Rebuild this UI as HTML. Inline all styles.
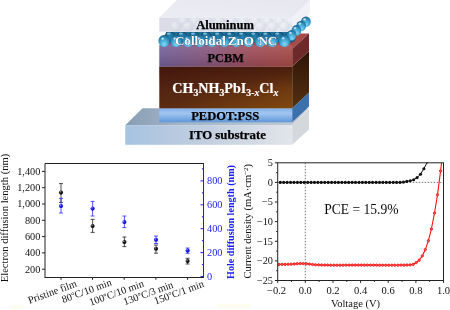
<!DOCTYPE html><html><head><meta charset="utf-8"><title>Figure</title><style>html,body{margin:0;padding:0;background:#fff}svg{display:block}text{font-family:"Liberation Serif",serif}</style></head><body>
<svg width="450" height="310" viewBox="0 0 450 310">
<defs>
<radialGradient id="sp" cx="0.5" cy="0.7" r="0.75" fx="0.52" fy="0.8"><stop offset="0" stop-color="#86d8f4"/><stop offset="0.45" stop-color="#45aad8"/><stop offset="0.8" stop-color="#2478a6"/><stop offset="1" stop-color="#15547c"/></radialGradient>
<radialGradient id="sp2" cx="0.5" cy="0.5" r="0.5"><stop offset="0" stop-color="#2a86b4"/><stop offset="0.7" stop-color="#1d6a94"/><stop offset="1" stop-color="#0f4a6b"/></radialGradient>
<radialGradient id="hl" cx="0.5" cy="0.5" r="0.5"><stop offset="0" stop-color="#ffffff" stop-opacity="0.95"/><stop offset="0.5" stop-color="#d8f0fa" stop-opacity="0.6"/><stop offset="1" stop-color="#9fd8f0" stop-opacity="0"/></radialGradient>
<clipPath id="below"><rect x="150" y="31.9" width="170" height="30"/></clipPath>
<clipPath id="alc"><rect x="159.3" y="17.6" width="132.9" height="14.2"/></clipPath>
<radialGradient id="gs" cx="0.35" cy="0.3" r="0.75"><stop offset="0" stop-color="#ffffff"/><stop offset="0.6" stop-color="#d4dbe4"/><stop offset="1" stop-color="#b8c2cf"/></radialGradient>
<radialGradient id="mk" cx="0.35" cy="0.3" r="0.7"><stop offset="0" stop-color="#bbbbbb"/><stop offset="0.35" stop-color="#222"/><stop offset="1" stop-color="#000"/></radialGradient>
<radialGradient id="mb" cx="0.35" cy="0.3" r="0.7"><stop offset="0" stop-color="#c0c0ff"/><stop offset="0.35" stop-color="#2222ff"/><stop offset="1" stop-color="#0000d0"/></radialGradient>
<linearGradient id="pcbm" x1="0" x2="1" y1="0" y2="0"><stop offset="0" stop-color="#73619a"/><stop offset="0.4" stop-color="#8c567c"/><stop offset="0.7" stop-color="#a04c58"/><stop offset="1" stop-color="#a94a46"/></linearGradient>
<linearGradient id="pcbmv" x1="0" x2="0" y1="0" y2="1"><stop offset="0" stop-color="#ffffff" stop-opacity="0.10"/><stop offset="1" stop-color="#000000" stop-opacity="0.12"/></linearGradient>
<linearGradient id="pero" x1="0" x2="1" y1="0" y2="1"><stop offset="0" stop-color="#4a1c12"/><stop offset="0.5" stop-color="#5a2a12"/><stop offset="1" stop-color="#80480f"/></linearGradient>
<linearGradient id="perov" x1="0" x2="0" y1="0" y2="1"><stop offset="0" stop-color="#3a1208" stop-opacity="0.5"/><stop offset="0.5" stop-color="#3a1208" stop-opacity="0"/></linearGradient>
<linearGradient id="pedot" x1="0" x2="0" y1="0" y2="1"><stop offset="0" stop-color="#7fb0ea"/><stop offset="0.35" stop-color="#a2c6f2"/><stop offset="1" stop-color="#5f97d8"/></linearGradient>
<linearGradient id="itof" x1="0" x2="1" y1="0" y2="0"><stop offset="0" stop-color="#a6c3e0"/><stop offset="0.5" stop-color="#c3cfe0"/><stop offset="1" stop-color="#e2e5ea"/></linearGradient>
<linearGradient id="itot" x1="0" x2="1" y1="0" y2="0"><stop offset="0" stop-color="#889db4"/><stop offset="0.3" stop-color="#a3b4c6"/><stop offset="1" stop-color="#c4ccd6"/></linearGradient>
<linearGradient id="alf" x1="0" x2="1" y1="0" y2="0"><stop offset="0" stop-color="#dadbe7"/><stop offset="1" stop-color="#eaebf2"/></linearGradient>
<linearGradient id="alt" x1="0" x2="1" y1="1" y2="0"><stop offset="0" stop-color="#ecedf4"/><stop offset="1" stop-color="#e6e7ef"/></linearGradient>
<linearGradient id="peros" x1="0" x2="0" y1="0" y2="1"><stop offset="0" stop-color="#2e1408"/><stop offset="1" stop-color="#55300f"/></linearGradient>
</defs>
<polygon points="125.3,125.2 142.5,108.3 309,108.3 292.2,125.2" fill="url(#itot)"/>
<polygon points="292.2,125.2 309,109 309,129.5 292.2,144.8" fill="#d4d7db"/>
<rect x="125.3" y="125.2" width="166.89999999999998" height="19.6" fill="url(#itof)"/>
<polygon points="292.2,108.3 309,92.5 309,106.5 292.2,122.3" fill="#3b70ad"/>
<rect x="159.3" y="108.3" width="132.89999999999998" height="14" fill="url(#pedot)"/>
<polygon points="292.2,66.5 309,51 309,92.5 292.2,108.3" fill="url(#peros)"/>
<rect x="159.3" y="66.5" width="132.89999999999998" height="41.8" fill="url(#pero)"/>
<rect x="159.3" y="66.5" width="132.89999999999998" height="41.8" fill="url(#perov)"/>
<polygon points="159.3,49 175,33.5 309,33.5 292.2,49" fill="url(#pcbm)"/>
<polygon points="292.2,49 309,33.5 309,51 292.2,66.5" fill="#6e2a2a"/>
<rect x="159.3" y="45" width="132.89999999999998" height="21.5" fill="url(#pcbm)"/>
<rect x="159.3" y="45" width="132.89999999999998" height="21.5" fill="url(#pcbmv)"/>
<g clip-path="url(#below)">
<rect x="166" y="31.5" width="126" height="8" fill="#1f6f98"/>
<circle cx="170.0" cy="37" r="5.6" fill="url(#sp2)"/>
<ellipse cx="168.8" cy="33.6" rx="2" ry="1.2" fill="#8fd0ec" opacity="0.8"/>
<circle cx="182.1" cy="37" r="5.6" fill="url(#sp2)"/>
<ellipse cx="180.9" cy="33.6" rx="2" ry="1.2" fill="#8fd0ec" opacity="0.8"/>
<circle cx="194.1" cy="37" r="5.6" fill="url(#sp2)"/>
<ellipse cx="192.9" cy="33.6" rx="2" ry="1.2" fill="#8fd0ec" opacity="0.8"/>
<circle cx="206.2" cy="37" r="5.6" fill="url(#sp2)"/>
<ellipse cx="205.0" cy="33.6" rx="2" ry="1.2" fill="#8fd0ec" opacity="0.8"/>
<circle cx="218.2" cy="37" r="5.6" fill="url(#sp2)"/>
<ellipse cx="217.0" cy="33.6" rx="2" ry="1.2" fill="#8fd0ec" opacity="0.8"/>
<circle cx="230.2" cy="37" r="5.6" fill="url(#sp2)"/>
<ellipse cx="229.1" cy="33.6" rx="2" ry="1.2" fill="#8fd0ec" opacity="0.8"/>
<circle cx="242.3" cy="37" r="5.6" fill="url(#sp2)"/>
<ellipse cx="241.1" cy="33.6" rx="2" ry="1.2" fill="#8fd0ec" opacity="0.8"/>
<circle cx="254.4" cy="37" r="5.6" fill="url(#sp2)"/>
<ellipse cx="253.2" cy="33.6" rx="2" ry="1.2" fill="#8fd0ec" opacity="0.8"/>
<circle cx="266.4" cy="37" r="5.6" fill="url(#sp2)"/>
<ellipse cx="265.2" cy="33.6" rx="2" ry="1.2" fill="#8fd0ec" opacity="0.8"/>
<circle cx="278.4" cy="37" r="5.6" fill="url(#sp2)"/>
<ellipse cx="277.2" cy="33.6" rx="2" ry="1.2" fill="#8fd0ec" opacity="0.8"/>
<circle cx="290.5" cy="37" r="5.6" fill="url(#sp2)"/>
<ellipse cx="289.3" cy="33.6" rx="2" ry="1.2" fill="#8fd0ec" opacity="0.8"/>
</g>
<polygon points="292.2,17.6 310,0 310,14 292.2,31.7" fill="#f1f1f7"/>
<polygon points="159.3,17.6 176.8,0 310,0 292.2,17.6" fill="url(#alt)"/>
<rect x="159.3" y="17.6" width="132.89999999999998" height="14.1" fill="url(#alf)"/>
<g clip-path="url(#alc)" opacity="0.42">
<circle cx="183.5" cy="21.8" r="5.2" fill="url(#gs)"/>
<circle cx="195.6" cy="21.8" r="5.2" fill="url(#gs)"/>
<circle cx="207.6" cy="21.8" r="5.2" fill="url(#gs)"/>
<circle cx="219.7" cy="21.8" r="5.2" fill="url(#gs)"/>
<circle cx="231.7" cy="21.8" r="5.2" fill="url(#gs)"/>
<circle cx="243.8" cy="21.8" r="5.2" fill="url(#gs)"/>
<circle cx="255.8" cy="21.8" r="5.2" fill="url(#gs)"/>
<circle cx="267.9" cy="21.8" r="5.2" fill="url(#gs)"/>
<circle cx="279.9" cy="21.8" r="5.2" fill="url(#gs)"/>
<circle cx="291.9" cy="21.8" r="5.2" fill="url(#gs)"/>
<circle cx="176.0" cy="27" r="5.2" fill="url(#gs)"/>
<circle cx="188.1" cy="27" r="5.2" fill="url(#gs)"/>
<circle cx="200.1" cy="27" r="5.2" fill="url(#gs)"/>
<circle cx="212.2" cy="27" r="5.2" fill="url(#gs)"/>
<circle cx="224.2" cy="27" r="5.2" fill="url(#gs)"/>
<circle cx="236.2" cy="27" r="5.2" fill="url(#gs)"/>
<circle cx="248.3" cy="27" r="5.2" fill="url(#gs)"/>
<circle cx="260.4" cy="27" r="5.2" fill="url(#gs)"/>
<circle cx="272.4" cy="27" r="5.2" fill="url(#gs)"/>
<circle cx="284.4" cy="27" r="5.2" fill="url(#gs)"/>
</g>
<ellipse cx="164.0" cy="40.9" rx="5.6" ry="6.0" fill="url(#sp)"/>
<ellipse cx="162.7" cy="38.6" rx="2.1" ry="1.7" fill="url(#hl)"/>
<ellipse cx="176.1" cy="40.9" rx="5.6" ry="6.0" fill="url(#sp)"/>
<ellipse cx="174.8" cy="38.6" rx="2.1" ry="1.7" fill="url(#hl)"/>
<ellipse cx="188.1" cy="40.9" rx="5.6" ry="6.0" fill="url(#sp)"/>
<ellipse cx="186.8" cy="38.6" rx="2.1" ry="1.7" fill="url(#hl)"/>
<ellipse cx="200.2" cy="40.9" rx="5.6" ry="6.0" fill="url(#sp)"/>
<ellipse cx="198.8" cy="38.6" rx="2.1" ry="1.7" fill="url(#hl)"/>
<ellipse cx="212.2" cy="40.9" rx="5.6" ry="6.0" fill="url(#sp)"/>
<ellipse cx="210.9" cy="38.6" rx="2.1" ry="1.7" fill="url(#hl)"/>
<ellipse cx="224.2" cy="40.9" rx="5.6" ry="6.0" fill="url(#sp)"/>
<ellipse cx="222.9" cy="38.6" rx="2.1" ry="1.7" fill="url(#hl)"/>
<ellipse cx="236.3" cy="40.9" rx="5.6" ry="6.0" fill="url(#sp)"/>
<ellipse cx="235.0" cy="38.6" rx="2.1" ry="1.7" fill="url(#hl)"/>
<ellipse cx="248.4" cy="40.9" rx="5.6" ry="6.0" fill="url(#sp)"/>
<ellipse cx="247.1" cy="38.6" rx="2.1" ry="1.7" fill="url(#hl)"/>
<ellipse cx="260.4" cy="40.9" rx="5.6" ry="6.0" fill="url(#sp)"/>
<ellipse cx="259.1" cy="38.6" rx="2.1" ry="1.7" fill="url(#hl)"/>
<ellipse cx="272.4" cy="40.9" rx="5.6" ry="6.0" fill="url(#sp)"/>
<ellipse cx="271.1" cy="38.6" rx="2.1" ry="1.7" fill="url(#hl)"/>
<ellipse cx="284.5" cy="40.9" rx="5.6" ry="6.0" fill="url(#sp)"/>
<ellipse cx="283.2" cy="38.6" rx="2.1" ry="1.7" fill="url(#hl)"/>
<ellipse cx="305.9" cy="21.7" rx="4.9" ry="5.300000000000001" fill="url(#sp)"/>
<ellipse cx="304.6" cy="19.4" rx="2.1" ry="1.7" fill="url(#hl)"/>
<ellipse cx="301.2" cy="26.0" rx="4.9" ry="5.300000000000001" fill="url(#sp)"/>
<ellipse cx="299.9" cy="23.7" rx="2.1" ry="1.7" fill="url(#hl)"/>
<ellipse cx="296.4" cy="30.4" rx="4.9" ry="5.300000000000001" fill="url(#sp)"/>
<ellipse cx="295.1" cy="28.1" rx="2.1" ry="1.7" fill="url(#hl)"/>
<ellipse cx="291.7" cy="35.3" rx="4.9" ry="5.300000000000001" fill="url(#sp)"/>
<ellipse cx="290.4" cy="33.0" rx="2.1" ry="1.7" fill="url(#hl)"/>
<ellipse cx="284.5" cy="40.6" rx="5.6" ry="6.0" fill="url(#sp)"/>
<ellipse cx="283.2" cy="38.3" rx="2.1" ry="1.7" fill="url(#hl)"/>
<g font-weight="bold" text-anchor="middle" stroke="#000" stroke-width="0.25">
<text x="225" y="28.7" font-size="12.5" fill="#000">Aluminum</text>
<text x="174.9" y="45.3" font-size="13.1" text-anchor="start" fill="#fff" stroke="#1d4f6e" stroke-width="0.6" paint-order="stroke">Colloidal<tspan dx="-1.4"> ZnO</tspan><tspan dx="1.2"> NC</tspan></text>
<text x="225.7" y="61.8" font-size="12.3" fill="#000">PCBM</text>
<text x="225.3" y="92.5" font-size="14.1" fill="#fff" stroke="#fff" stroke-width="0.2">CH<tspan font-size="9.8" dy="3.2">3</tspan><tspan dy="-3.2">NH</tspan><tspan font-size="9.8" dy="3.2">3</tspan><tspan dy="-3.2">PbI</tspan><tspan font-size="9.8" dy="3.2">3-<tspan font-style="italic">x</tspan></tspan><tspan dy="-3.2">Cl</tspan><tspan font-size="9.8" dy="3.2" font-style="italic">x</tspan></text>
<text x="225.2" y="120" font-size="12.55" fill="#000">PEDOT:PSS</text>
<text x="227.4" y="138.9" font-size="12.8" fill="#000">ITO substrate</text>
</g>
<g stroke="#222" stroke-width="1" fill="none">
<path d="M45,277.5V163.5H203.5"/><path d="M44.5,277.5H203.5"/>
<path d="M45,171.4h-3"/>
<path d="M45,187.7h-3"/>
<path d="M45,204h-3"/>
<path d="M45,220.3h-3"/>
<path d="M45,236.6h-3"/>
<path d="M45,252.9h-3"/>
<path d="M45,269.2h-3"/>
<path d="M61,277.5v2.3"/>
<path d="M92.5,277.5v2.3"/>
<path d="M124.2,277.5v2.3"/>
<path d="M155.9,277.5v2.3"/>
<path d="M187.6,277.5v2.3"/>
</g>
<g stroke="#1c1cff" stroke-width="1" fill="none">
<path d="M203.5,163.0V278.0"/>
<path d="M203.5,180.9h-3"/>
<path d="M203.5,204.8h-3"/>
<path d="M203.5,228.7h-3"/>
<path d="M203.5,252.6h-3"/>
<path d="M203.5,276.5h-3"/>
<path d="M203.5,168.9h-1.6"/>
<path d="M203.5,192.9h-1.6"/>
<path d="M203.5,216.8h-1.6"/>
<path d="M203.5,240.7h-1.6"/>
<path d="M203.5,264.6h-1.6"/>
</g>
<g font-size="10.3" fill="#111" text-anchor="end">
<text x="40.4" y="174.8">1,400</text>
<text x="40.4" y="191.1">1,200</text>
<text x="40.4" y="207.4">1,000</text>
<text x="40.4" y="223.70000000000002">800</text>
<text x="40.4" y="240.0">600</text>
<text x="40.4" y="256.3">400</text>
<text x="40.4" y="272.59999999999997">200</text>
</g>
<g font-size="10.3" fill="#1c1cff">
<text x="207" y="184.3">800</text>
<text x="207" y="208.20000000000002">600</text>
<text x="207" y="232.1">400</text>
<text x="207" y="256.0">200</text>
<text x="207" y="279.9">0</text>
</g>
<g font-size="10.3" fill="#111" text-anchor="middle">
<text transform="translate(53.5,295) rotate(-20)" x="0" y="0">Pristine film</text>
<text transform="translate(87.8,294) rotate(-20)" x="0" y="0">80<tspan font-size="8.2" dy="-1.2">°</tspan><tspan dy="1.2">C</tspan>/10 min</text>
<text transform="translate(117.7,296) rotate(-20)" x="0" y="0">100<tspan font-size="8.2" dy="-1.2">°</tspan><tspan dy="1.2">C</tspan>/10 min</text>
<text transform="translate(149.4,296.3) rotate(-20)" x="0" y="0">130<tspan font-size="8.2" dy="-1.2">°</tspan><tspan dy="1.2">C</tspan>/3 min</text>
<text transform="translate(180.1,295.5) rotate(-20)" x="0" y="0">150<tspan font-size="8.2" dy="-1.2">°</tspan><tspan dy="1.2">C</tspan>/1 min</text>
</g>
<text transform="translate(7.8,218) rotate(-90)" text-anchor="middle" font-size="10.55" fill="#111">Electron diffusion length (nm)</text>
<text transform="translate(233.6,222) rotate(-90)" text-anchor="middle" font-size="10.15" font-weight="bold" fill="#1c1cff">Hole diffusion length (nm)</text>
<path d="M61,183.6V202.4M59,183.6h4M59,202.4h4" stroke="#222" stroke-width="0.8" fill="none"/>
<circle cx="61" cy="192.6" r="2.05" fill="url(#mk)"/>
<path d="M92.6,219.4V232.4M90.6,219.4h4M90.6,232.4h4" stroke="#222" stroke-width="0.8" fill="none"/>
<circle cx="92.6" cy="226" r="2.05" fill="url(#mk)"/>
<path d="M124.4,237V246.6M122.4,237h4M122.4,246.6h4" stroke="#222" stroke-width="0.8" fill="none"/>
<circle cx="124.4" cy="242" r="2.05" fill="url(#mk)"/>
<path d="M156,245V253.2M154,245h4M154,253.2h4" stroke="#222" stroke-width="0.8" fill="none"/>
<circle cx="156" cy="248.8" r="2.05" fill="url(#mk)"/>
<path d="M187.6,258.3V264M185.6,258.3h4M185.6,264h4" stroke="#222" stroke-width="0.8" fill="none"/>
<circle cx="187.6" cy="261" r="2.05" fill="url(#mk)"/>
<path d="M61,198.4V213M59,198.4h4M59,213h4" stroke="#2a2aff" stroke-width="0.8" fill="none"/>
<circle cx="61" cy="206" r="2.05" fill="url(#mb)"/>
<path d="M92.6,201.4V216M90.6,201.4h4M90.6,216h4" stroke="#2a2aff" stroke-width="0.8" fill="none"/>
<circle cx="92.6" cy="208.6" r="2.05" fill="url(#mb)"/>
<path d="M124.4,216V227.6M122.4,216h4M122.4,227.6h4" stroke="#2a2aff" stroke-width="0.8" fill="none"/>
<circle cx="124.4" cy="222" r="2.05" fill="url(#mb)"/>
<path d="M156,236V243.5M154,236h4M154,243.5h4" stroke="#2a2aff" stroke-width="0.8" fill="none"/>
<circle cx="156" cy="239.8" r="2.05" fill="url(#mb)"/>
<path d="M187.6,248V253.3M185.6,248h4M185.6,253.3h4" stroke="#2a2aff" stroke-width="0.8" fill="none"/>
<circle cx="187.6" cy="250.6" r="2.05" fill="url(#mb)"/>
<g stroke="#555" stroke-width="0.8" stroke-dasharray="1.5,1.5" fill="none"><path d="M305.3,162.8V280.5"/><path d="M277.7,182.4H443.5"/></g>
<clipPath id="cp"><rect x="277.7" y="162.8" width="165.8" height="117.69999999999999"/></clipPath>
<g clip-path="url(#cp)">
<polyline fill="none" stroke="#111" stroke-width="1" points="280.3,182.4 283.7,182.4 287.1,182.4 290.6,182.4 294.0,182.4 297.4,182.4 300.8,182.4 304.2,182.4 307.7,182.4 311.1,182.4 314.5,182.4 317.9,182.4 321.3,182.4 324.8,182.4 328.2,182.4 331.6,182.4 335.0,182.4 338.4,182.4 341.9,182.4 345.3,182.4 348.7,182.4 352.1,182.4 355.5,182.4 359.0,182.4 362.4,182.4 365.8,182.4 369.2,182.4 372.6,182.4 376.1,182.4 379.5,182.4 382.9,182.4 386.3,182.4 389.7,182.4 393.2,182.4 396.6,182.4 400.0,182.4 403.4,182.1 406.8,181.4 410.3,180.8 413.7,179.7 417.1,177.6 420.5,174.2 423.9,168.7 427.4,161.9 430.8,155.0"/>
<circle cx="280.3" cy="182.4" r="1.55" fill="#111"/>
<circle cx="283.7" cy="182.4" r="1.55" fill="#111"/>
<circle cx="287.1" cy="182.4" r="1.55" fill="#111"/>
<circle cx="290.6" cy="182.4" r="1.55" fill="#111"/>
<circle cx="294.0" cy="182.4" r="1.55" fill="#111"/>
<circle cx="297.4" cy="182.4" r="1.55" fill="#111"/>
<circle cx="300.8" cy="182.4" r="1.55" fill="#111"/>
<circle cx="304.2" cy="182.4" r="1.55" fill="#111"/>
<circle cx="307.7" cy="182.4" r="1.55" fill="#111"/>
<circle cx="311.1" cy="182.4" r="1.55" fill="#111"/>
<circle cx="314.5" cy="182.4" r="1.55" fill="#111"/>
<circle cx="317.9" cy="182.4" r="1.55" fill="#111"/>
<circle cx="321.3" cy="182.4" r="1.55" fill="#111"/>
<circle cx="324.8" cy="182.4" r="1.55" fill="#111"/>
<circle cx="328.2" cy="182.4" r="1.55" fill="#111"/>
<circle cx="331.6" cy="182.4" r="1.55" fill="#111"/>
<circle cx="335.0" cy="182.4" r="1.55" fill="#111"/>
<circle cx="338.4" cy="182.4" r="1.55" fill="#111"/>
<circle cx="341.9" cy="182.4" r="1.55" fill="#111"/>
<circle cx="345.3" cy="182.4" r="1.55" fill="#111"/>
<circle cx="348.7" cy="182.4" r="1.55" fill="#111"/>
<circle cx="352.1" cy="182.4" r="1.55" fill="#111"/>
<circle cx="355.5" cy="182.4" r="1.55" fill="#111"/>
<circle cx="359.0" cy="182.4" r="1.55" fill="#111"/>
<circle cx="362.4" cy="182.4" r="1.55" fill="#111"/>
<circle cx="365.8" cy="182.4" r="1.55" fill="#111"/>
<circle cx="369.2" cy="182.4" r="1.55" fill="#111"/>
<circle cx="372.6" cy="182.4" r="1.55" fill="#111"/>
<circle cx="376.1" cy="182.4" r="1.55" fill="#111"/>
<circle cx="379.5" cy="182.4" r="1.55" fill="#111"/>
<circle cx="382.9" cy="182.4" r="1.55" fill="#111"/>
<circle cx="386.3" cy="182.4" r="1.55" fill="#111"/>
<circle cx="389.7" cy="182.4" r="1.55" fill="#111"/>
<circle cx="393.2" cy="182.4" r="1.55" fill="#111"/>
<circle cx="396.6" cy="182.4" r="1.55" fill="#111"/>
<circle cx="400.0" cy="182.4" r="1.55" fill="#111"/>
<circle cx="403.4" cy="182.1" r="1.55" fill="#111"/>
<circle cx="406.8" cy="181.4" r="1.55" fill="#111"/>
<circle cx="410.3" cy="180.8" r="1.55" fill="#111"/>
<circle cx="413.7" cy="179.7" r="1.55" fill="#111"/>
<circle cx="417.1" cy="177.6" r="1.55" fill="#111"/>
<circle cx="420.5" cy="174.2" r="1.55" fill="#111"/>
<circle cx="423.9" cy="168.7" r="1.55" fill="#111"/>
<circle cx="427.4" cy="161.9" r="1.55" fill="#111"/>
<circle cx="430.8" cy="155.0" r="1.55" fill="#111"/>
<polyline fill="none" stroke="#f51212" stroke-width="1.1" points="278.9,264.5 282.0,264.4 285.0,264.4 288.1,264.3 291.1,264.2 294.2,264.0 297.2,263.7 300.3,263.5 303.3,263.6 306.4,263.7 309.4,264.1 312.5,264.5 315.5,264.8 318.6,264.9 321.6,265.0 324.7,265.1 327.7,265.1 330.8,265.2 333.8,265.2 336.9,265.2 339.9,265.2 343.0,265.2 346.0,265.1 349.1,265.1 352.1,265.1 355.2,265.1 358.2,265.1 361.3,265.1 364.3,265.1 367.4,265.1 370.4,265.1 373.5,265.1 376.5,265.1 379.6,265.2 382.6,265.2 385.7,265.2 388.7,265.2 391.8,265.2 394.8,265.2 397.9,265.2 400.9,265.1 404.0,265.1 407.0,265.0 410.1,264.9 413.1,264.4 416.2,262.6 419.2,260.2 422.3,255.9 425.3,249.6 428.4,240.7 431.4,229.0 434.5,213.0 437.5,194.7 440.6,170.9 443.6,145.0"/>
<circle cx="278.9" cy="264.5" r="1.15" fill="#ff5a5a" stroke="#f01818" stroke-width="0.9"/>
<circle cx="282.0" cy="264.4" r="1.15" fill="#ff5a5a" stroke="#f01818" stroke-width="0.9"/>
<circle cx="285.0" cy="264.4" r="1.15" fill="#ff5a5a" stroke="#f01818" stroke-width="0.9"/>
<circle cx="288.1" cy="264.3" r="1.15" fill="#ff5a5a" stroke="#f01818" stroke-width="0.9"/>
<circle cx="291.1" cy="264.2" r="1.15" fill="#ff5a5a" stroke="#f01818" stroke-width="0.9"/>
<circle cx="294.2" cy="264.0" r="1.15" fill="#ff5a5a" stroke="#f01818" stroke-width="0.9"/>
<circle cx="297.2" cy="263.7" r="1.15" fill="#ff5a5a" stroke="#f01818" stroke-width="0.9"/>
<circle cx="300.3" cy="263.5" r="1.15" fill="#ff5a5a" stroke="#f01818" stroke-width="0.9"/>
<circle cx="303.3" cy="263.6" r="1.15" fill="#ff5a5a" stroke="#f01818" stroke-width="0.9"/>
<circle cx="306.4" cy="263.7" r="1.15" fill="#ff5a5a" stroke="#f01818" stroke-width="0.9"/>
<circle cx="309.4" cy="264.1" r="1.15" fill="#ff5a5a" stroke="#f01818" stroke-width="0.9"/>
<circle cx="312.5" cy="264.5" r="1.15" fill="#ff5a5a" stroke="#f01818" stroke-width="0.9"/>
<circle cx="315.5" cy="264.8" r="1.15" fill="#ff5a5a" stroke="#f01818" stroke-width="0.9"/>
<circle cx="318.6" cy="264.9" r="1.15" fill="#ff5a5a" stroke="#f01818" stroke-width="0.9"/>
<circle cx="321.6" cy="265.0" r="1.15" fill="#ff5a5a" stroke="#f01818" stroke-width="0.9"/>
<circle cx="324.7" cy="265.1" r="1.15" fill="#ff5a5a" stroke="#f01818" stroke-width="0.9"/>
<circle cx="327.7" cy="265.1" r="1.15" fill="#ff5a5a" stroke="#f01818" stroke-width="0.9"/>
<circle cx="330.8" cy="265.2" r="1.15" fill="#ff5a5a" stroke="#f01818" stroke-width="0.9"/>
<circle cx="333.8" cy="265.2" r="1.15" fill="#ff5a5a" stroke="#f01818" stroke-width="0.9"/>
<circle cx="336.9" cy="265.2" r="1.15" fill="#ff5a5a" stroke="#f01818" stroke-width="0.9"/>
<circle cx="339.9" cy="265.2" r="1.15" fill="#ff5a5a" stroke="#f01818" stroke-width="0.9"/>
<circle cx="343.0" cy="265.2" r="1.15" fill="#ff5a5a" stroke="#f01818" stroke-width="0.9"/>
<circle cx="346.0" cy="265.1" r="1.15" fill="#ff5a5a" stroke="#f01818" stroke-width="0.9"/>
<circle cx="349.1" cy="265.1" r="1.15" fill="#ff5a5a" stroke="#f01818" stroke-width="0.9"/>
<circle cx="352.1" cy="265.1" r="1.15" fill="#ff5a5a" stroke="#f01818" stroke-width="0.9"/>
<circle cx="355.2" cy="265.1" r="1.15" fill="#ff5a5a" stroke="#f01818" stroke-width="0.9"/>
<circle cx="358.2" cy="265.1" r="1.15" fill="#ff5a5a" stroke="#f01818" stroke-width="0.9"/>
<circle cx="361.3" cy="265.1" r="1.15" fill="#ff5a5a" stroke="#f01818" stroke-width="0.9"/>
<circle cx="364.3" cy="265.1" r="1.15" fill="#ff5a5a" stroke="#f01818" stroke-width="0.9"/>
<circle cx="367.4" cy="265.1" r="1.15" fill="#ff5a5a" stroke="#f01818" stroke-width="0.9"/>
<circle cx="370.4" cy="265.1" r="1.15" fill="#ff5a5a" stroke="#f01818" stroke-width="0.9"/>
<circle cx="373.5" cy="265.1" r="1.15" fill="#ff5a5a" stroke="#f01818" stroke-width="0.9"/>
<circle cx="376.5" cy="265.1" r="1.15" fill="#ff5a5a" stroke="#f01818" stroke-width="0.9"/>
<circle cx="379.6" cy="265.2" r="1.15" fill="#ff5a5a" stroke="#f01818" stroke-width="0.9"/>
<circle cx="382.6" cy="265.2" r="1.15" fill="#ff5a5a" stroke="#f01818" stroke-width="0.9"/>
<circle cx="385.7" cy="265.2" r="1.15" fill="#ff5a5a" stroke="#f01818" stroke-width="0.9"/>
<circle cx="388.7" cy="265.2" r="1.15" fill="#ff5a5a" stroke="#f01818" stroke-width="0.9"/>
<circle cx="391.8" cy="265.2" r="1.15" fill="#ff5a5a" stroke="#f01818" stroke-width="0.9"/>
<circle cx="394.8" cy="265.2" r="1.15" fill="#ff5a5a" stroke="#f01818" stroke-width="0.9"/>
<circle cx="397.9" cy="265.2" r="1.15" fill="#ff5a5a" stroke="#f01818" stroke-width="0.9"/>
<circle cx="400.9" cy="265.1" r="1.15" fill="#ff5a5a" stroke="#f01818" stroke-width="0.9"/>
<circle cx="404.0" cy="265.1" r="1.15" fill="#ff5a5a" stroke="#f01818" stroke-width="0.9"/>
<circle cx="407.0" cy="265.0" r="1.15" fill="#ff5a5a" stroke="#f01818" stroke-width="0.9"/>
<circle cx="410.1" cy="264.9" r="1.15" fill="#ff5a5a" stroke="#f01818" stroke-width="0.9"/>
<circle cx="413.1" cy="264.4" r="1.15" fill="#ff5a5a" stroke="#f01818" stroke-width="0.9"/>
<circle cx="416.2" cy="262.6" r="1.15" fill="#ff5a5a" stroke="#f01818" stroke-width="0.9"/>
<circle cx="419.2" cy="260.2" r="1.15" fill="#ff5a5a" stroke="#f01818" stroke-width="0.9"/>
<circle cx="422.3" cy="255.9" r="1.15" fill="#ff5a5a" stroke="#f01818" stroke-width="0.9"/>
<circle cx="425.3" cy="249.6" r="1.15" fill="#ff5a5a" stroke="#f01818" stroke-width="0.9"/>
<circle cx="428.4" cy="240.7" r="1.15" fill="#ff5a5a" stroke="#f01818" stroke-width="0.9"/>
<circle cx="431.4" cy="229.0" r="1.15" fill="#ff5a5a" stroke="#f01818" stroke-width="0.9"/>
<circle cx="434.5" cy="213.0" r="1.15" fill="#ff5a5a" stroke="#f01818" stroke-width="0.9"/>
<circle cx="437.5" cy="194.7" r="1.15" fill="#ff5a5a" stroke="#f01818" stroke-width="0.9"/>
<circle cx="440.6" cy="170.9" r="1.15" fill="#ff5a5a" stroke="#f01818" stroke-width="0.9"/>
<circle cx="443.6" cy="145.0" r="1.15" fill="#ff5a5a" stroke="#f01818" stroke-width="0.9"/>
</g>
<g stroke="#222" stroke-width="1" fill="none">
<rect x="277.7" y="162.8" width="165.8" height="117.69999999999999"/>
<path d="M277.7,162.8h-2.8"/>
<path d="M277.7,182.4h-2.8"/>
<path d="M277.7,202.0h-2.8"/>
<path d="M277.7,221.6h-2.8"/>
<path d="M277.7,241.3h-2.8"/>
<path d="M277.7,260.9h-2.8"/>
<path d="M277.7,280.5h-2.8"/>
<path d="M277.7,172.6h-1.5"/>
<path d="M277.7,192.2h-1.5"/>
<path d="M277.7,211.8h-1.5"/>
<path d="M277.7,231.5h-1.5"/>
<path d="M277.7,251.1h-1.5"/>
<path d="M277.7,270.7h-1.5"/>
<path d="M277.7,280.5v2.4"/>
<path d="M291.5,280.5v1.4"/>
<path d="M305.3,280.5v2.4"/>
<path d="M319.1,280.5v1.4"/>
<path d="M333.0,280.5v2.4"/>
<path d="M346.8,280.5v1.4"/>
<path d="M360.6,280.5v2.4"/>
<path d="M374.4,280.5v1.4"/>
<path d="M388.2,280.5v2.4"/>
<path d="M402.1,280.5v1.4"/>
<path d="M415.9,280.5v2.4"/>
<path d="M429.7,280.5v1.4"/>
<path d="M443.5,280.5v2.4"/>
</g>
<g font-size="10.3" fill="#111" text-anchor="end">
<text x="273" y="166.2">5</text>
<text x="273" y="185.8">0</text>
<text x="273" y="205.4">−5</text>
<text x="273" y="225.0">−10</text>
<text x="273" y="244.7">−15</text>
<text x="273" y="264.3">−20</text>
<text x="273" y="283.9">−25</text>
</g>
<g font-size="10.55" fill="#111" text-anchor="middle">
<text x="276.6" y="293.5">−0.2</text>
<text x="305.3" y="293.5">0.0</text>
<text x="333.0" y="293.5">0.2</text>
<text x="360.6" y="293.5">0.4</text>
<text x="388.2" y="293.5">0.6</text>
<text x="415.9" y="293.5">0.8</text>
<text x="443.5" y="293.5">1.0</text>
</g>
<text x="355.5" y="307.1" font-size="10.5" fill="#111" text-anchor="middle">Voltage (V)</text>
<text transform="translate(251,221.2) rotate(-90)" text-anchor="middle" font-size="10.55" fill="#111">Current density (mA·cm<tspan font-size="7" dy="-3.5">−2</tspan><tspan dy="3.5">)</tspan></text>
<text x="361.4" y="214.4" font-size="13.55" fill="#0a0a0a" text-anchor="middle">PCE = 15.9%</text>
<rect x="217" y="304" width="33" height="4" fill="#fffdf0"/><rect x="11" y="305" width="12" height="3.5" fill="#fffdf0"/>
</svg></body></html>
